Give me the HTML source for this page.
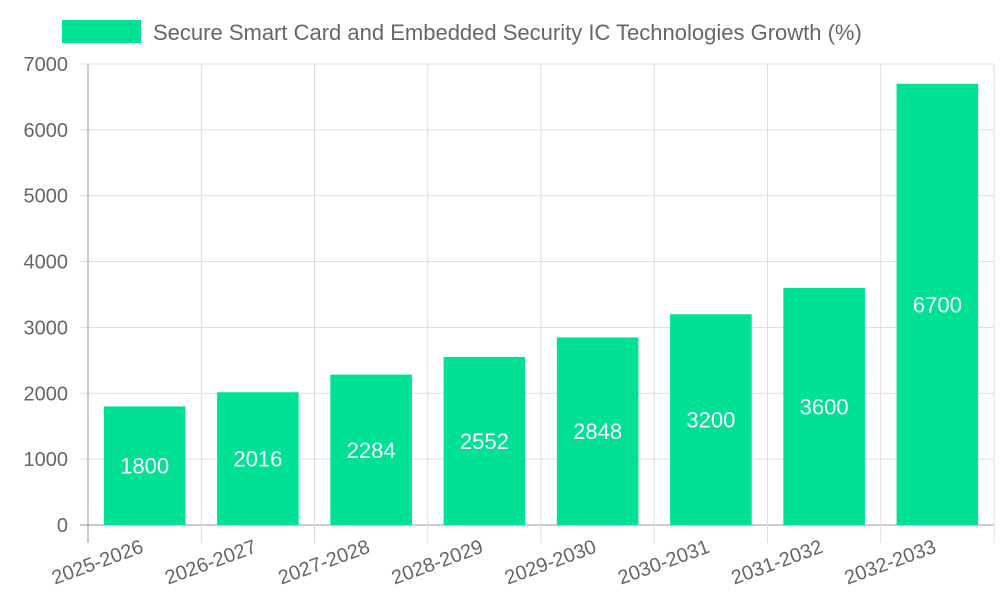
<!DOCTYPE html>
<html><head><meta charset="utf-8"><style>
html,body{margin:0;padding:0;background:#fff;}
svg{display:block;font-family:"Liberation Sans",sans-serif;}
</style></head><body>
<svg id="chart" width="1000" height="600">
<g>
<rect x="62" y="20" width="79" height="23" fill="#00e096"></rect>
<text x="153" y="40" font-size="22" fill="#666">Secure Smart Card and Embedded Security IC Technologies Growth (%)</text>
</g>
<g id="grid"></g>
<g id="bars"></g>
<g id="axes"></g>
</svg>
<script>
const categories = ["2025-2026","2026-2027","2027-2028","2028-2029","2029-2030","2030-2031","2031-2032","2032-2033"];
const values = [1800,2016,2284,2552,2848,3200,3600,6700];
const yTicks = [0,1000,2000,3000,4000,5000,6000,7000];

const NS="http://www.w3.org/2000/svg";
const L=88,R=994,T=64,B=525,yMax=7000;
const bw=(R-L)/categories.length;
const y=v=>B-(v/yMax)*(B-T);
const x=i=>L+bw*i;
function mk(tag,attrs,parent){const e=document.createElementNS(NS,tag);for(const k in attrs)e.setAttribute(k,attrs[k]);parent.appendChild(e);return e;}
const grid=document.getElementById('grid'),bars=document.getElementById('bars'),axes=document.getElementById('axes');
yTicks.forEach(t=>{
  const l=mk('line',{x1:L-8,x2:R,y1:y(t),y2:y(t),stroke:t===0?'#999':'#ddd','stroke-width':1},grid);
  
  
  const tx=mk('text',{x:L-20,y:y(t)+7,'text-anchor':'end','font-size':20,fill:'#666'},axes);
  tx.textContent=t;
  
  
});
for(let i=0;i<=categories.length;i++){
  const l=mk('line',{x1:x(i),x2:x(i),y1:T,y2:B+18,stroke:i===0?'#999':'#ddd','stroke-width':1},grid);
  
  
}
categories.forEach((c,i)=>{
  const cx=x(i)+bw/2,w=bw*0.72,v=values[i];
  const r=mk('rect',{x:cx-w/2,y:y(v),width:w,height:B-y(v),fill:'#00e096'},bars);
  
  
  const vt=mk('text',{x:cx,y:(y(v)+B)/2+8,'text-anchor':'middle','font-size':22,fill:'#fff'},bars);
  vt.textContent=v;
  
  
  const lt=mk('text',{x:cx,y:B+27,'text-anchor':'end','font-size':20,fill:'#666',transform:`rotate(-20 ${cx} ${B+27})`},axes);
  lt.textContent=c;
  
  
});
</script>
</body></html>
